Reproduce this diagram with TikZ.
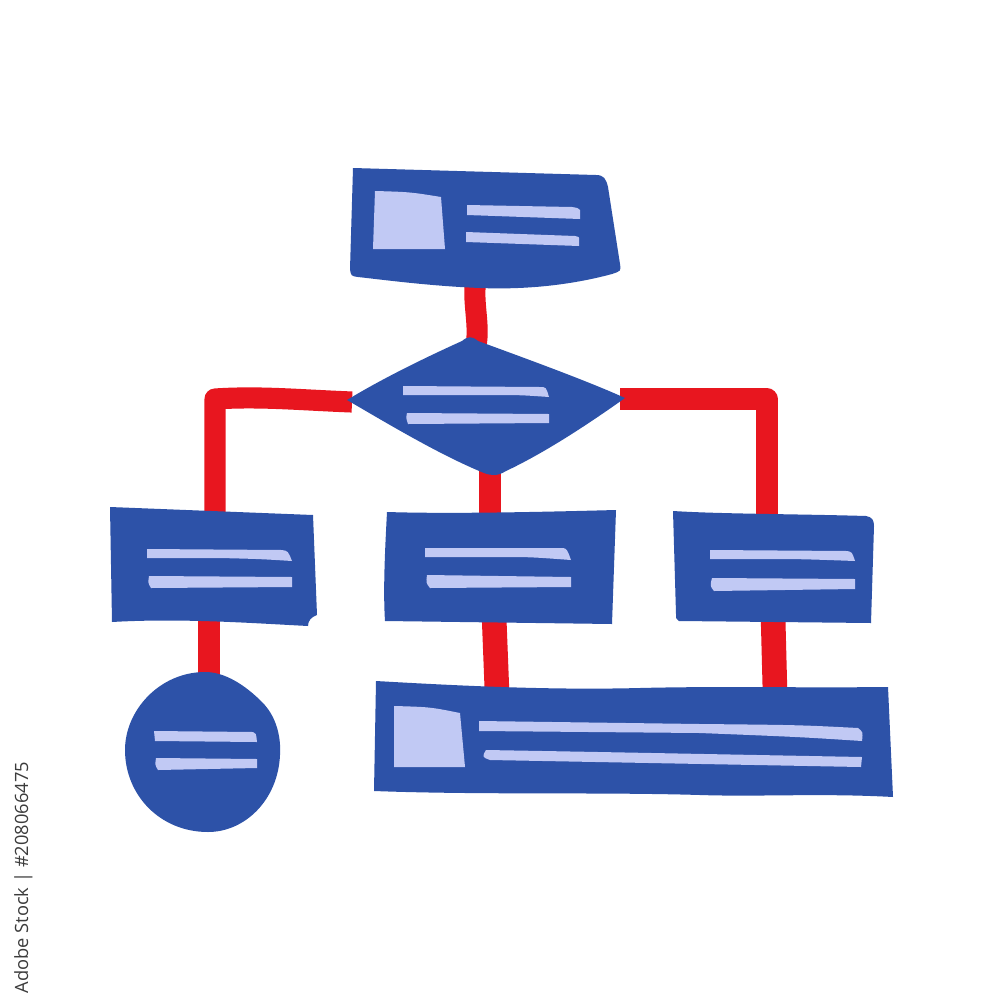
\documentclass[tikz,border=0pt]{standalone}
\usepackage{fontspec}
\newfontfamily\wmfont{Open Sans}
\definecolor{bbox}{HTML}{2D52A8}
\definecolor{lav}{HTML}{C1C9F4}
\definecolor{rline}{HTML}{E8161F}
\definecolor{wmgray}{HTML}{3C3C3C}
\begin{document}
\begin{tikzpicture}[x=0.01cm,y=-0.01cm,
  blob/.style={fill=bbox},
  bar/.style={fill=lav},
  wire/.style={draw=rline, line width=6pt, line join=round},
  thickwire/.style={draw=rline, line width=7pt, line join=round}]
\useasboundingbox (0,0) rectangle (1000,1000);
\fill[white] (0,0) rectangle (1000,1000);

% ---- named anchor points of the flowchart elements ----
\coordinate (topS) at (476,280);
\coordinate (diaN) at (476,345);
\coordinate (diaW) at (352,402);
\coordinate (diaE) at (620,399);
\coordinate (diaS) at (490,465);
\coordinate (elbowL) at (215,399);
\coordinate (elbowR) at (767,399);
\coordinate (leftN) at (215,520);
\coordinate (midN) at (490,520);
\coordinate (rightN) at (767,520);
\coordinate (leftS) at (209,615);
\coordinate (circN) at (209,680);
\coordinate (midS) at (494,615);
\coordinate (rightS) at (773,615);
\coordinate (botNm) at (497,692);
\coordinate (botNr) at (775,692);

% ---- connectors ----
\draw[wire] (topS) .. controls (472,300) and (480,325) .. (diaN);
\draw[wire] (diaW) .. controls (300,400) and (260,396) .. (elbowL) -- (leftN);
\draw[wire] (diaE) -- (elbowR) -- (rightN);
\draw[wire] (diaS) -- (midN);
\draw[wire] (leftS) -- (circN);
\draw[thickwire] (midS) -- (botNm);
\draw[thickwire] (rightS) -- (botNr);

% ---- top box ----
\fill[blob] (353,168) -- (596,175) .. controls (604,175) and (606,179) .. (608,187)
  -- (620,264) .. controls (621,271) .. (612,274)
  .. controls (575,284) and (530,290) .. (480,288)
  .. controls (430,286) and (385,280) .. (358,277)
  .. controls (351,276) .. (350,269) -- cycle;
\fill[bar] (375,191) .. controls (410,192) .. (441,197) -- (445,249) -- (373,249) -- cycle;
\fill[bar] (467,205) -- (572,207) .. controls (578,208) .. (580,210) -- (580,219) -- (467,215) -- cycle;
\fill[bar] (466,232) -- (575,236) .. controls (579,237) .. (579,238) -- (579,246) -- (466,242) -- cycle;

% ---- diamond ----
\fill[blob] (462,341) .. controls (468,336) and (472,336) .. (478,341)
  .. controls (530,360) and (590,382) .. (625,398)
  .. controls (580,430) and (540,455) .. (506,471)
  .. controls (498,476) and (492,476) .. (484,473)
  .. controls (440,455) and (390,425) .. (347,400)
  .. controls (380,380) and (420,360) .. (462,341) -- cycle;
\fill[bar] (403,386) -- (540,387) .. controls (546,387) .. (549,397) .. controls (520,395) .. (490,395) -- (403,395) -- cycle;
\fill[bar] (407,413) -- (549,414) -- (549,423) -- (408,424) .. controls (406,418) .. (407,413) -- cycle;

% ---- left box ----
\fill[blob] (110,507) -- (313,515) -- (317,615) .. controls (311,617) and (308,621) .. (308,626)
  .. controls (250,623) and (180,618) .. (112,622) -- cycle;
\fill[bar] (147,549) -- (282,550) .. controls (288,551) .. (292,561) .. controls (260,559) .. (220,558) -- (147,558) -- cycle;
\fill[bar] (149,576) -- (292,577) -- (292,587) -- (151,588) .. controls (148,583) .. (149,576) -- cycle;

% ---- circle ----
\fill[blob] (205,672) .. controls (225,672) and (245,685) .. (262,702)
  .. controls (278,718) and (281,740) .. (280,755)
  .. controls (278,800) and (245,832) .. (208,832)
  .. controls (160,832) and (125,795) .. (125,750)
  .. controls (125,710) and (160,672) .. (205,672) -- cycle;
\fill[bar] (154,731) -- (253,732) .. controls (256,733) .. (257,742) -- (155,741) -- cycle;
\fill[bar] (156,758) -- (257,759) -- (257,768) -- (158,770) .. controls (155,765) .. (156,758) -- cycle;

% ---- middle box ----
\fill[blob] (387,512) .. controls (450,514) and (540,512) .. (616,510) -- (612,624)
  -- (385,621) .. controls (383,590) and (385,550) .. (387,512) -- cycle;
\fill[bar] (425,548) -- (563,548) .. controls (567,549) .. (571,560) .. controls (530,557) .. (500,557) -- (425,557) -- cycle;
\fill[bar] (427,575) -- (571,577) -- (571,587) -- (430,588) .. controls (426,583) .. (427,575) -- cycle;

% ---- right box ----
\fill[blob] (673,511) .. controls (720,514) and (800,514) .. (866,516)
  .. controls (872,517) and (874,520) .. (874,526) -- (871,623)
  -- (679,621) .. controls (676,619) .. (676,614) -- cycle;
\fill[bar] (710,550) -- (847,551) .. controls (852,552) .. (855,561) .. controls (800,559) .. (760,559) -- (710,559) -- cycle;
\fill[bar] (712,578) -- (855,579) -- (855,589) -- (714,591) .. controls (710,586) .. (712,578) -- cycle;

% ---- bottom box ----
\fill[blob] (376,681) .. controls (480,687) and (560,690) .. (640,688)
  .. controls (720,686) and (800,688) .. (888,687) -- (893,797)
  .. controls (820,793) and (760,797) .. (700,795)
  .. controls (600,792) and (480,795) .. (374,791) -- cycle;
\fill[bar] (394,706) .. controls (430,707) .. (460,713) -- (465,767) -- (394,767) -- cycle;
\fill[bar] (479,721) -- (700,724) .. controls (800,725) .. (858,728) .. controls (863,732) .. (862,741)
  .. controls (800,737) .. (700,733) -- (479,731) -- cycle;
\fill[bar] (486,750) .. controls (600,752) .. (862,757) -- (861,767) -- (490,760) .. controls (482,757) .. (486,750) -- cycle;

% ---- side credit ----
\node[rotate=90, anchor=base west, inner sep=0pt, text=wmgray, font=\wmfont\fontsize{5.2pt}{6pt}\selectfont] (credit) at (28,994) {Adobe Stock | \#208066475};
\end{tikzpicture}
\end{document}
